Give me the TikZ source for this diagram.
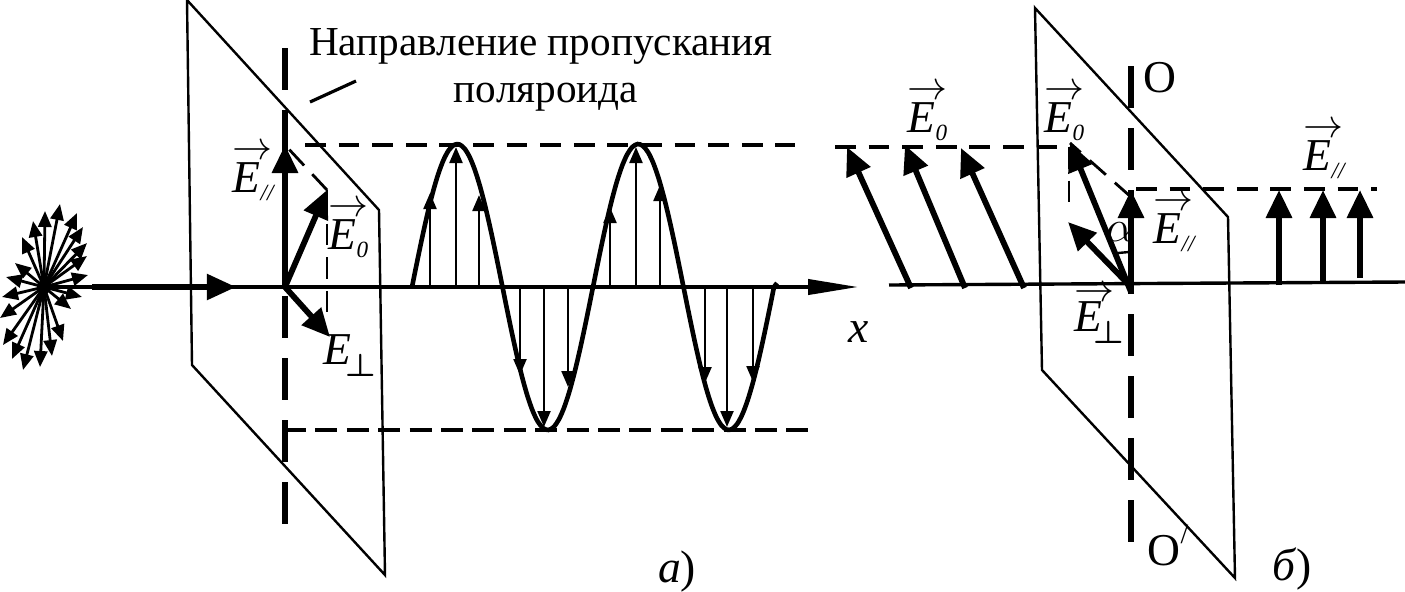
\documentclass[tikz,border=0pt]{standalone}
\usepackage{amsmath}
\usepackage{fontspec}
\usepackage{tikz}
\usetikzlibrary{arrows.meta}
\setmainfont{Liberation Serif}
\newcommand{\Ename}[1][8.1pt]{\rlap{\raisebox{#1}{\fontsize{10}{12}\selectfont\(\rightarrow\)}}\textit{E}}
\newcommand{\Esub}[1]{\raisebox{-2pt}{\fontsize{5.8}{6}\selectfont\textit{#1}}}
\newcommand{\Eperp}[2]{\kern#1\raisebox{#2}{\(\scriptstyle\boldsymbol\perp\)}}
\tikzset{
    plate/.style={line width=0.6pt},
    axisline/.style={line width=0.85pt},
    optaxis/.style={line width=1.3pt, dash pattern=on 10.5pt off 5pt},
    levelline/.style={line width=0.85pt, dash pattern=on 5.2pt off 3.2pt},
    guide/.style={line width=0.7pt, dash pattern=on 5.4pt off 3pt},
    bigvec/.style={line width=1.45pt, -{Triangle[length=7pt,width=6.3pt]}},
    wavevec/.style={line width=0.7pt, -{Triangle[length=4pt,width=3.2pt]}},
    rayvec/.style={line width=0.7pt, -{Triangle[length=4pt,width=3.3pt]}},
    lbl/.style={inner sep=0pt, font=\fontsize{11.4}{13}\selectfont},
    title/.style={inner sep=0pt, font=\fontsize{10.3}{12}\selectfont}
}
\begin{document}
\begin{tikzpicture}[x=0.25pt, y=-0.25pt]
        \useasboundingbox (0,0) rectangle (1405,591);
        % left part
        \coordinate (S) at (44, 287);
        \coordinate (O) at (285, 287);
        \coordinate (Par) at (285, 145);
        \coordinate (Nul) at (327, 190);
        \coordinate (Perp) at (330, 337);
        \draw[plate] (187, 0) -- (192, 365) -- (385, 575) -- (379, 210) -- cycle;
        \draw[axisline, -{Triangle[length=12.5pt,width=3.8pt]}] (S) -- (858, 287);
        \draw[line width=1.3pt, -{Triangle[length=7.3pt,width=6.3pt]}] (92, 287) -- (236, 287);
        \foreach \tx/\ty in {60/204, 45/211, 33/221, 22/237, 15/263, 6/277, 2/297, 0/318, 3/345, 12/359, 23/370, 40/367, 52/356, 63/341, 71/309, 82/297, 88/275, 87/256, 87/243, 83/227, 77/213}
            \draw[rayvec] (S) -- (\tx, \ty);
        \fill (S) circle (7);
        \draw[optaxis] (285, 48) -- (285, 531);
        \draw[guide] (Nul) -- (Par);
        \draw[guide] (Nul) -- (327, 318);
        \draw[bigvec] (O) -- (Par);
        \draw[bigvec] (O) -- (Nul);
        \draw[bigvec] (O) -- (Perp);
        \draw[levelline] (305, 145) -- (795, 145);
        \draw[levelline, dash pattern=on 5.5pt off 2.35pt] (284, 430) -- (817, 430);
        \draw[line width=1.15pt] plot[smooth, domain=412:774, samples=70] (\x, {287-143*sin(1.989*(\x-412))}) -- (777, 283);
        \foreach \vx/\vy in {430/193, 456/147, 479/195, 610/207, 636/147, 660/185, 520/375, 544/427, 568/387, 705/383, 727/427, 753/382}
            \draw[wavevec] (\vx, 287) -- (\vx, \vy);
        \node[title, anchor=base] (dir1) at (541, 55) {Направление пропускания};
        \node[title, anchor=base] (dir2) at (546, 102) {поляроида};
        \draw[line width=0.8pt] (310, 102) -- (356, 81);
        \node[lbl, anchor=base west] (Epar) at (232, 192) {\Ename\Esub{//}};
        \node[lbl, anchor=base west] (Eo) at (328, 249) {\Ename\Esub{0}};
        \node[lbl, anchor=base west] (Eplain) at (323, 364) {\textit{E}\Eperp{-1.5pt}{-3pt}};
        \node[lbl] (xlab) at (859, 332) {\textit{x}};
        \node[lbl] (parta) at (677, 572) {\textit{а})};
        % right part
        \coordinate (Q) at (1131, 287);
        \coordinate (Qpar) at (1131, 190);
        \coordinate (Qnul) at (1070, 143);
        \coordinate (Qperp) at (1068, 222);
        \coordinate (Qside) at (1131, 197);
        \draw[plate] (1035, 8) -- (1042, 370) -- (1235, 578) -- (1228, 217) -- cycle;
        \draw[axisline] (889, 285) -- (1405, 282);
        \draw[optaxis] (1131, 66) -- (1131, 543);
        \draw[levelline] (835, 147) -- (1072, 147);
        \draw[levelline] (1136, 189) -- (1377, 189);
        \draw[guide] (Qside) -- (Qnul);
        \draw[guide] (1069, 147) -- (1069, 210);
        \foreach \bx/\tx/\ty in {911/847/147, 965/905/145, 1024/961/148}
            \draw[bigvec] (\bx, 288) -- (\tx, \ty);
        \foreach \ux/\uy in {1279/285, 1323/281, 1360/278}
            \draw[bigvec] (\ux, \uy) -- (\ux, 190);
        \draw[bigvec] (1131, 292) -- (Qnul);
        \draw[bigvec] (Q) -- (Qperp);
        \draw[bigvec] (Q) -- (Qpar);
        \draw[line width=0.6pt] (1118, 253) -- (1129, 252);
        \node[lbl] (alpha) at (1120, 232) {\(\alpha\)};
        \node[lbl, anchor=base west] (Eo2) at (907, 132) {\Ename\Esub{0}};
        \node[lbl, anchor=base west] (Eo3) at (1044, 132) {\Ename\Esub{0}};
        \node[lbl, anchor=base west] (Epar2) at (1303, 170) {\Ename\Esub{//}};
        \node[lbl, anchor=base west] (Epar3) at (1153, 243) {\Ename\Esub{//}};
        \node[lbl, anchor=base west] (Eperp2) at (1074, 331) {\Ename[7.5pt]\Eperp{-2.2pt}{-3pt}};
        \node[lbl, anchor=base west] (botO) at (1147, 565) {O\raisebox{5.5pt}{\fontsize{7}{8}\selectfont /}};
        \node[lbl] (topO) at (1160, 78) {O};
        \node[lbl] (partb) at (1292, 569) {\textit{б})};
    \end{tikzpicture}
\end{document}
